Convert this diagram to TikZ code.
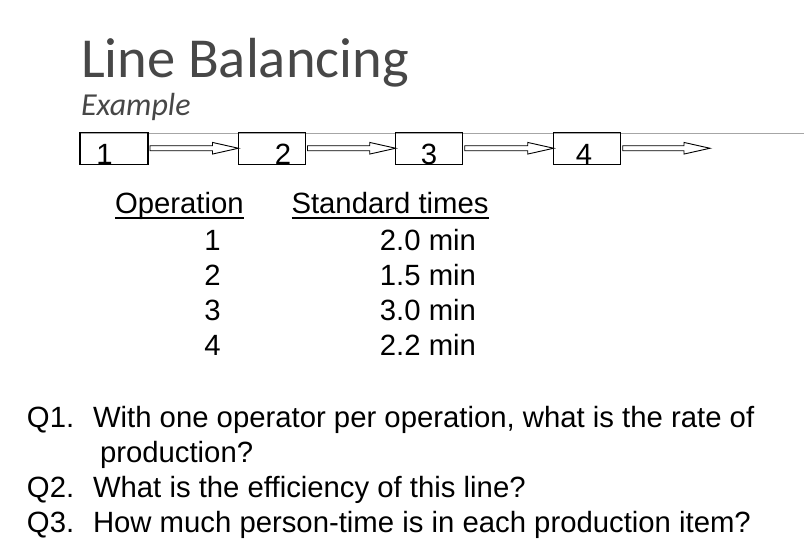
\documentclass[tikz,border=0pt]{standalone}
\usepackage{fontspec}
\setmainfont{Liberation Sans}
\newfontfamily\titlefont{Carlito}
\usetikzlibrary{calc}
\definecolor{titlegray}{HTML}{474747}
\definecolor{rulegray}{HTML}{A6A6A6}
\newcommand\holarrow[2]{%
  \draw[harrow] let \p1=(#1), \p2=(#2) in
    (\x1+2pt,\y1+2.5pt) -- (\x2-26pt,\y1+2.5pt) -- (\x2-26pt,\y1+5.8pt) -- (\x2,\y1)
    -- (\x2-26pt,\y1-5.8pt) -- (\x2-26pt,\y1-2.5pt) -- (\x1+2pt,\y1-2.5pt) -- cycle;}
\begin{document}
\begin{tikzpicture}[x=1pt,y=-1pt,
  every node/.style={inner sep=0pt, outer sep=0pt},
  txt/.style={font=\fontsize{29.3}{35}\selectfont, anchor=base west},
  digit/.style={font=\fontsize{29.3}{35}\selectfont, anchor=base},
  opbox/.style={draw=black, line width=1.2pt, minimum height=32pt},
  harrow/.style={draw=black, line width=0.9pt, fill=white, line join=miter},
  uline/.style={line width=2pt},
  titletxt/.style={font=\titlefont\fontsize{56.5}{60}\selectfont, text=titlegray, anchor=base west},
  subtxt/.style={font=\titlefont\itshape\fontsize{32}{36}\selectfont, text=titlegray, anchor=base west},
]
\useasboundingbox (0,0) rectangle (804,546);

% title
\node[titletxt] (title) at (81,77.5) {Line Balancing};
\node[subtxt] (sub) at (81,115) {Example};

% gray rule
\coordinate (rs) at (80,133.5);
\coordinate (re) at (804,133.5);
\draw[rulegray, line width=1.5pt] (rs) -- (re);

% boxes
\node[opbox, minimum width=68pt] (b1) at (114,148.25) {};
\node[opbox, minimum width=67pt] (b2) at (272,148.25) {};
\node[opbox, minimum width=67pt] (b3) at (429.25,148.25) {};
\node[opbox, minimum width=67pt] (b4) at (587.25,148.25) {};
\node[digit] (d1) at (104.5,164) {1};
\node[digit] (d2) at (283,164) {2};
\node[digit] (d3) at (429,164) {3};
\node[digit] (d4) at (584,164) {4};

% arrows
\coordinate (out) at (710,148.25);
\holarrow{b1.east}{b2.west}
\holarrow{b2.east}{b3.west}
\holarrow{b3.east}{b4.west}
\holarrow{b4.east}{out}

% table
\node[txt] (op) at (115,213) {Operation};
\node[txt] (st) at (291.5,213) {Standard times};
\draw[uline] ([yshift=-4.5pt]op.base west) -- ([yshift=-4.5pt]op.base east);
\draw[uline] ([yshift=-4.5pt]st.base west) -- ([yshift=-4.5pt]st.base east);

\node[digit] (n1) at (212.5,250) {1};
\node[digit] (n2) at (212.5,285) {2};
\node[digit] (n3) at (212.5,320) {3};
\node[digit] (n4) at (212.5,355) {4};
\node[txt, anchor=base east] (v1) at (476,250) {2.0 min};
\node[txt, anchor=base east] (v2) at (476,285) {1.5 min};
\node[txt, anchor=base east] (v3) at (476,320) {3.0 min};
\node[txt, anchor=base east] (v4) at (476,355) {2.2 min};

% questions
\node[txt] (q1l) at (27,427) {Q1.};
\node[txt] (q1) at (93,427) {With one operator per operation, what is the rate of};
\node[txt] (q1b) at (100,462) {production?};
\node[txt] (q2l) at (27,497) {Q2.};
\node[txt] (q2) at (93,497) {What is the efficiency of this line?};
\node[txt] (q3l) at (27,532) {Q3.};
\node[txt] (q3) at (93,532) {How much person-time is in each production item?};
\end{tikzpicture}
\end{document}
